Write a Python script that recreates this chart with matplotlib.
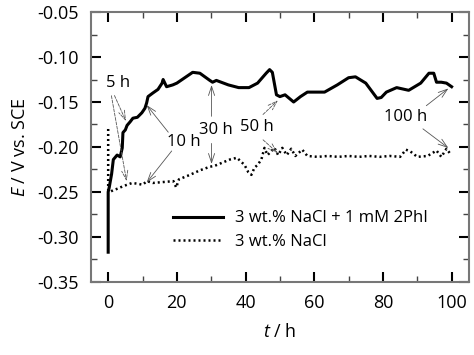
import matplotlib
matplotlib.use("Agg")
import matplotlib.pyplot as plt
from matplotlib.ticker import MultipleLocator

plt.rcParams.update({"font.family": "Open Sans", "font.size": 11,
                     "mathtext.fontset": "custom", "mathtext.it": "Open Sans:italic",
                     "mathtext.rm": "Open Sans",
                     "xtick.top": True, "ytick.right": True,
                     "xtick.direction": "in", "ytick.direction": "in"})

# 3 wt.% NaCl + 1 mM 2PhI
t_phi = [0.0, 0.0, 0.3, 1.0, 1.5, 2.6, 3.5, 4.1, 4.3, 5.0, 5.5, 6.4, 7.2, 8.5, 9.8, 10.7,
         11.2, 11.6, 13.0, 14.5, 15.7, 16.0, 17.0, 18.8, 20.0, 24.6, 26.7, 29.6, 30.4,
         31.5, 35.0, 38.0, 41.0, 43.5, 46.0, 47.0, 47.8, 49.0, 50.0, 51.5, 54.0, 56.0,
         58.0, 63.0, 66.7, 70.0, 72.0, 75.0, 78.3, 79.5, 81.0, 84.0, 87.5, 91.0, 93.4,
         94.8, 95.6, 97.0, 98.5, 100.0]
E_phi = [-0.317, -0.250, -0.245, -0.230, -0.214, -0.209, -0.211, -0.201, -0.184, -0.181,
         -0.176, -0.172, -0.168, -0.167, -0.162, -0.157, -0.151, -0.144, -0.140, -0.136,
         -0.129, -0.125, -0.133, -0.131, -0.129, -0.117, -0.118, -0.126, -0.128, -0.126,
         -0.131, -0.134, -0.134, -0.129, -0.118, -0.114, -0.117, -0.142, -0.144, -0.142,
         -0.150, -0.144, -0.139, -0.139, -0.131, -0.123, -0.122, -0.129, -0.146, -0.145,
         -0.139, -0.134, -0.137, -0.129, -0.118, -0.118, -0.128, -0.128, -0.129, -0.133]

# 3 wt.% NaCl
t_nacl = [0.0, 0.0, 0.5, 1.5, 3.0, 4.1, 5.5, 7.0, 8.7, 10.0, 11.3, 13.0, 16.0, 19.0,
          19.8, 20.6, 23.8, 26.7, 29.6, 31.0, 35.4, 37.5, 39.7, 40.8, 41.7, 42.6, 43.5,
          44.6, 45.5, 46.4, 48.4, 49.5, 50.7, 52.0, 53.3, 54.5, 56.5, 58.0, 61.0, 64.0,
          67.0, 70.0, 73.0, 76.0, 79.0, 82.0, 85.0, 86.7, 88.0, 90.0, 93.0, 95.6, 97.0,
          98.5, 99.5]
E_nacl = [-0.180, -0.248, -0.250, -0.248, -0.246, -0.244, -0.242, -0.240, -0.241, -0.242,
          -0.238, -0.240, -0.239, -0.238, -0.245, -0.236, -0.231, -0.226, -0.222, -0.221,
          -0.214, -0.212, -0.220, -0.228, -0.231, -0.223, -0.220, -0.214, -0.201, -0.209,
          -0.201, -0.209, -0.201, -0.209, -0.202, -0.210, -0.203, -0.210, -0.211, -0.210,
          -0.211, -0.210, -0.211, -0.210, -0.211, -0.210, -0.211, -0.203, -0.205, -0.211,
          -0.210, -0.204, -0.211, -0.202, -0.207]

# label text, text position, arrow starts/targets, dashed?
labels = ["5 h", "10 h", "30 h", "50 h", "100 h"]
label_pos = [(2.9, -0.129), (22.0, -0.194), (31.3, -0.181), (43.2, -0.178), (86.7, -0.167)]
arrow_starts = [[(1.5, -0.140), (0.8, -0.140)],
                [(18.0, -0.186), (19.0, -0.202)],
                [(30.1, -0.169), (30.1, -0.193)],
                [(44.5, -0.166), (44.5, -0.190)],
                [(92.0, -0.156), (91.0, -0.178)]]
arrow_targets = [[(5.5, -0.174), (5.5, -0.241)],
                 [(10.7, -0.151), (10.7, -0.242)],
                 [(30.1, -0.128), (30.1, -0.222)],
                 [(50.0, -0.146), (50.0, -0.209)],
                 [(99.7, -0.133), (99.7, -0.203)]]
dashed = [True, False, False, True, False]

fig = plt.figure(figsize=(4.74, 3.55), dpi=100)
ax = fig.add_axes([0.192, 0.206, 0.797, 0.760])

ax.plot(t_phi, E_phi, color="black", lw=2.2, solid_joinstyle="round",
        label="3 wt.% NaCl + 1 mM 2PhI")
ax.plot(t_nacl, E_nacl, color="black", lw=1.8, linestyle=(0, (0.8, 1.2)),
        label="3 wt.% NaCl")

for lab, pos, starts, targets, dsh in zip(labels, label_pos, arrow_starts, arrow_targets, dashed):
    ax.text(pos[0], pos[1], lab, ha="center", va="center", fontsize=12)
    for s, tg in zip(starts, targets):
        ax.annotate("", xy=tg, xytext=s,
                    arrowprops=dict(arrowstyle="->,head_length=0.6,head_width=0.2",
                                    color="#555555", lw=0.6,
                                    linestyle="--" if dsh else "-"))

ax.set_xlim(-5, 105)
ax.set_ylim(-0.35, -0.05)
ax.xaxis.set_major_locator(MultipleLocator(20))
ax.xaxis.set_minor_locator(MultipleLocator(10))
ax.yaxis.set_major_locator(MultipleLocator(0.05))
ax.yaxis.set_minor_locator(MultipleLocator(0.025))
ax.yaxis.set_major_formatter(plt.FormatStrFormatter("%.2f"))
ax.tick_params(which="major", length=7, width=1.5, color="black", pad=9, labelsize=13)
ax.tick_params(which="minor", length=4, width=1.0, color="#444444")
for sp in ax.spines.values():
    sp.set_color("#777777")
    sp.set_linewidth(1.5)

ax.set_xlabel("$t$ / h", fontsize=13, labelpad=8)
ax.set_ylabel("$E$ / V vs. SCE", fontsize=13, labelpad=6)

ax.legend(loc="upper left", bbox_to_anchor=(0.217, 0.265), frameon=False,
          borderpad=0, borderaxespad=0, handlelength=3.0, handletextpad=0.7,
          labelspacing=0.45, fontsize=12)

fig.savefig("out.png", dpi=100)
